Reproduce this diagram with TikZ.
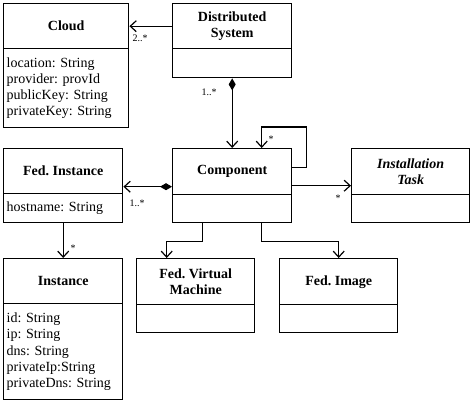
\documentclass[tikz,border=0pt]{standalone}
\usepackage{fontspec}
\setmainfont{Liberation Serif}
\usetikzlibrary{arrows.meta}
\frenchspacing
\begin{document}
\begin{tikzpicture}[x=1pt,y=-1pt,
 box/.style={draw, line width=1.4pt, inner sep=0pt, anchor=north west},
 hdr/.style={box, font=\fontsize{14}{16}\selectfont\bfseries, align=center},
 bdy/.style={box, font=\fontsize{14}{16.3}\selectfont\frenchspacing, align=left, inner xsep=3pt},
 lbl/.style={font=\fontsize{10}{11}\selectfont},
 assoc/.style={line width=1.2pt, arrows={-Straight Barb[length=6pt,width=11pt,line width=1.2pt]}},
 compo/.style={line width=1.2pt, arrows={Diamond[length=12pt,width=7pt]-Straight Barb[length=6pt,width=11pt,line width=1.2pt]}}
]
\useasboundingbox (0,0) rectangle (474,404);
% classes
\node[hdr, minimum width=125pt, minimum height=45pt] (cloudh) at (3,3) {Cloud};
\node[bdy, text width=119pt, minimum height=79pt] (cloudb) at (3,48) {location: String\\provider: provId\\publicKey: String\\privateKey: String};
\node[hdr, minimum width=119pt, minimum height=45pt] (dsh) at (172,3) {Distributed\\System};
\node[box, minimum width=119pt, minimum height=29pt] (dsb) at (172,48) {};
\node[hdr, minimum width=119pt, minimum height=45pt] (fih) at (3,148) {Fed. Instance};
\node[bdy, text width=113pt, minimum height=29pt] (fib) at (3,193) {hostname: String};
\node[hdr, minimum width=119pt, minimum height=46pt] (comph) at (172,148) {Component};
\node[box, minimum width=119pt, minimum height=28pt] (compb) at (172,194) {};
\node[hdr, minimum width=118pt, minimum height=46pt, font=\fontsize{14}{16}\selectfont\bfseries\itshape] (ith) at (351,148) {Installation\\Task};
\node[box, minimum width=118pt, minimum height=28pt] (itb) at (351,194) {};
\node[hdr, minimum width=119pt, minimum height=45pt] (insth) at (3,258) {Instance};
\node[bdy, text width=113pt, minimum height=96pt] (instb) at (3,303) {id: String\\ip: String\\dns: String\\privateIp:String\\privateDns: String};
\node[hdr, minimum width=118pt, minimum height=46pt] (fvmh) at (136,258) {Fed. Virtual\\Machine};
\node[box, minimum width=118pt, minimum height=28pt] (fvmb) at (136,304) {};
\node[hdr, minimum width=118pt, minimum height=46pt] (fimh) at (279,258) {Fed. Image};
\node[box, minimum width=118pt, minimum height=28pt] (fimb) at (279,304) {};
% connectors
\draw[assoc] (dsh.west) -- (cloudh.east);
\node[lbl] (l1) at (140,38) {2..*};
\draw[compo] (dsb.south) -- (comph.north);
\node[lbl] (l2) at (209,92) {1..*};
\draw[assoc] ([yshift=4pt]comph.east) -| ([xshift=14pt,yshift=21pt]comph.north east) -| ([xshift=29.5pt]comph.north);
\node[lbl] (l3) at (271,139) {*};
\draw[assoc] ([yshift=-14pt]comph.east) -- ([yshift=-14pt]comph.east -| ith.west);
\node[lbl] (l4) at (338,198) {*};
\draw[compo] ([yshift=-15pt]comph.west) -- ([yshift=-15pt]comph.west -| fih.east);
\node[lbl] (l5) at (137,203) {1..*};
\draw[assoc] (fib.south) -- (insth.north);
\node[lbl] (l6) at (73,248) {*};
\draw[assoc] ([xshift=-29.5pt]compb.south) -- ++(0,18) -| ([xshift=-29pt]fvmh.north);
\draw[assoc] ([xshift=29.5pt]compb.south) -- ++(0,18) -| (fimh.north);
\end{tikzpicture}
\end{document}
